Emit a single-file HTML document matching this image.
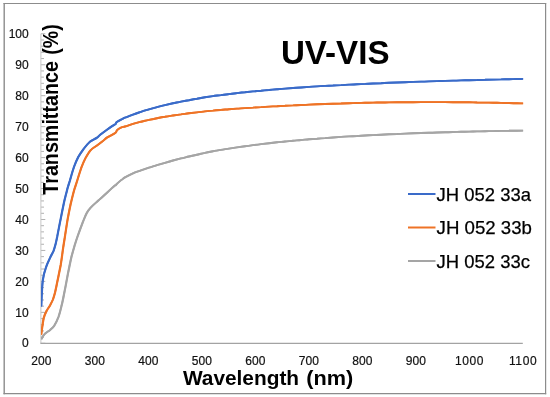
<!DOCTYPE html>
<html><head><meta charset="utf-8"><title>UV-VIS</title>
<style>
html,body{margin:0;padding:0;background:#fff;}
body{width:550px;height:397px;overflow:hidden;}
svg{display:block;font-family:"Liberation Sans",sans-serif;}
.tick{font-size:12px;fill:#111;stroke:#111;stroke-width:0.2px;}
.bold{font-weight:bold;fill:#000;}
.leg{font-size:18.4px;fill:#000;stroke:#000;stroke-width:0.25px;}
</style></head><body>
<svg width="550" height="397" viewBox="0 0 550 397">
<rect x="0" y="0" width="550" height="397" fill="#fff"/>
<g stroke="#8c8c8c">
<line x1="3.5" y1="3.5" x2="546.2" y2="3.5" stroke-width="1.1"/>
<line x1="3.5" y1="393.7" x2="546.2" y2="393.7" stroke-width="1.3"/>
<line x1="4.2" y1="3" x2="4.2" y2="394.3" stroke-width="1.4"/>
<line x1="545.6" y1="3" x2="545.6" y2="394.3" stroke-width="1.2"/>
</g>
<g stroke="#a8a8a8" stroke-width="0.9"><line x1="40.9" y1="343.30" x2="45.3" y2="343.30"/><line x1="40.9" y1="337.11" x2="44.0" y2="337.11"/><line x1="40.9" y1="330.92" x2="44.0" y2="330.92"/><line x1="40.9" y1="324.73" x2="44.0" y2="324.73"/><line x1="40.9" y1="318.54" x2="44.0" y2="318.54"/><line x1="40.9" y1="312.35" x2="45.3" y2="312.35"/><line x1="40.9" y1="306.16" x2="44.0" y2="306.16"/><line x1="40.9" y1="299.97" x2="44.0" y2="299.97"/><line x1="40.9" y1="293.78" x2="44.0" y2="293.78"/><line x1="40.9" y1="287.59" x2="44.0" y2="287.59"/><line x1="40.9" y1="281.40" x2="45.3" y2="281.40"/><line x1="40.9" y1="275.21" x2="44.0" y2="275.21"/><line x1="40.9" y1="269.02" x2="44.0" y2="269.02"/><line x1="40.9" y1="262.83" x2="44.0" y2="262.83"/><line x1="40.9" y1="256.64" x2="44.0" y2="256.64"/><line x1="40.9" y1="250.45" x2="45.3" y2="250.45"/><line x1="40.9" y1="244.26" x2="44.0" y2="244.26"/><line x1="40.9" y1="238.07" x2="44.0" y2="238.07"/><line x1="40.9" y1="231.88" x2="44.0" y2="231.88"/><line x1="40.9" y1="225.69" x2="44.0" y2="225.69"/><line x1="40.9" y1="219.50" x2="45.3" y2="219.50"/><line x1="40.9" y1="213.31" x2="44.0" y2="213.31"/><line x1="40.9" y1="207.12" x2="44.0" y2="207.12"/><line x1="40.9" y1="200.93" x2="44.0" y2="200.93"/><line x1="40.9" y1="194.74" x2="44.0" y2="194.74"/><line x1="40.9" y1="188.55" x2="45.3" y2="188.55"/><line x1="40.9" y1="182.36" x2="44.0" y2="182.36"/><line x1="40.9" y1="176.17" x2="44.0" y2="176.17"/><line x1="40.9" y1="169.98" x2="44.0" y2="169.98"/><line x1="40.9" y1="163.79" x2="44.0" y2="163.79"/><line x1="40.9" y1="157.60" x2="45.3" y2="157.60"/><line x1="40.9" y1="151.41" x2="44.0" y2="151.41"/><line x1="40.9" y1="145.22" x2="44.0" y2="145.22"/><line x1="40.9" y1="139.03" x2="44.0" y2="139.03"/><line x1="40.9" y1="132.84" x2="44.0" y2="132.84"/><line x1="40.9" y1="126.65" x2="45.3" y2="126.65"/><line x1="40.9" y1="120.46" x2="44.0" y2="120.46"/><line x1="40.9" y1="114.27" x2="44.0" y2="114.27"/><line x1="40.9" y1="108.08" x2="44.0" y2="108.08"/><line x1="40.9" y1="101.89" x2="44.0" y2="101.89"/><line x1="40.9" y1="95.70" x2="45.3" y2="95.70"/><line x1="40.9" y1="89.51" x2="44.0" y2="89.51"/><line x1="40.9" y1="83.32" x2="44.0" y2="83.32"/><line x1="40.9" y1="77.13" x2="44.0" y2="77.13"/><line x1="40.9" y1="70.94" x2="44.0" y2="70.94"/><line x1="40.9" y1="64.75" x2="45.3" y2="64.75"/><line x1="40.9" y1="58.56" x2="44.0" y2="58.56"/><line x1="40.9" y1="52.37" x2="44.0" y2="52.37"/><line x1="40.9" y1="46.18" x2="44.0" y2="46.18"/><line x1="40.9" y1="39.99" x2="44.0" y2="39.99"/><line x1="40.9" y1="33.80" x2="45.3" y2="33.80"/></g>
<line x1="40.9" y1="33.8" x2="40.9" y2="343.3" stroke="#c6c6c6" stroke-width="1"/>
<line x1="40.4" y1="343.3" x2="522.8" y2="343.3" stroke="#a3a3a3" stroke-width="1.3"/>
<g class="tick"><text x="28.7" y="347.4" text-anchor="end">0</text><text x="28.7" y="316.5" text-anchor="end">10</text><text x="28.7" y="285.5" text-anchor="end">20</text><text x="28.7" y="254.6" text-anchor="end">30</text><text x="28.7" y="223.6" text-anchor="end">40</text><text x="28.7" y="192.7" text-anchor="end">50</text><text x="28.7" y="161.7" text-anchor="end">60</text><text x="28.7" y="130.8" text-anchor="end">70</text><text x="28.7" y="99.8" text-anchor="end">80</text><text x="28.7" y="68.8" text-anchor="end">90</text><text x="28.7" y="37.9" text-anchor="end">100</text><text x="41.3" y="364.8" text-anchor="middle">200</text><text x="94.8" y="364.8" text-anchor="middle">300</text><text x="148.3" y="364.8" text-anchor="middle">400</text><text x="201.8" y="364.8" text-anchor="middle">500</text><text x="255.3" y="364.8" text-anchor="middle">600</text><text x="308.8" y="364.8" text-anchor="middle">700</text><text x="362.3" y="364.8" text-anchor="middle">800</text><text x="415.8" y="364.8" text-anchor="middle">900</text><text x="469.6" y="364.8" text-anchor="middle" letter-spacing="0.6">1000</text><text x="523.1" y="364.8" text-anchor="middle" letter-spacing="0.6">1100</text></g>
<clipPath id="pa"><rect x="41" y="20" width="483.2" height="324"/></clipPath>
<g fill="none" stroke-width="1.9" stroke-linejoin="round" stroke-linecap="butt" clip-path="url(#pa)">
<path id="cg" stroke="#a5a5a5" d="M41.1 339.3C41.6 338.4 42.9 335.7 44.4 334.1C45.8 332.5 48.3 331.3 50.0 329.9C51.6 328.5 52.7 327.9 54.1 325.7C55.6 323.5 57.3 319.7 58.5 316.5C59.6 313.3 60.3 310.4 61.2 306.6C62.2 302.8 63.0 298.8 64.0 293.5C65.1 288.2 66.5 280.6 67.6 274.6C68.8 268.6 70.0 262.6 71.1 257.7C72.3 252.8 73.6 248.5 74.6 245.0C75.7 241.5 76.1 240.2 77.4 236.5C78.7 232.8 80.9 226.7 82.4 222.8C84.0 218.9 85.2 215.6 86.6 213.0C88.0 210.4 89.0 209.3 90.8 207.3C92.7 205.3 96.4 202.2 97.9 200.8C99.4 199.4 98.3 200.5 99.8 199.1C101.4 197.7 104.7 194.7 107.1 192.5C109.6 190.3 113.0 186.9 114.4 185.7C115.9 184.5 115.2 185.5 115.6 185.2C116.0 184.9 115.8 184.6 116.8 183.7C117.9 182.8 120.4 180.6 121.8 179.6C123.1 178.6 123.0 178.5 124.8 177.4C126.7 176.4 130.2 174.6 132.8 173.4C135.5 172.2 138.2 171.4 140.8 170.4C143.5 169.5 146.2 168.6 148.8 167.7C151.5 166.9 154.2 166.0 156.8 165.2C159.5 164.4 162.2 163.6 164.8 162.8C167.5 162.0 170.2 161.2 172.8 160.5C175.5 159.8 178.2 159.1 180.8 158.4C183.5 157.8 186.2 157.1 188.8 156.5C191.5 155.9 194.2 155.3 196.8 154.7C199.5 154.1 202.2 153.4 204.8 152.9C207.5 152.3 210.2 151.8 212.8 151.3C215.5 150.8 218.2 150.4 220.8 149.9C223.5 149.5 226.2 149.0 228.8 148.6C231.5 148.2 234.2 147.8 236.8 147.4C239.5 147.0 242.2 146.6 244.8 146.2C247.5 145.9 250.2 145.5 252.8 145.1C255.5 144.8 258.2 144.5 260.9 144.1C263.5 143.8 266.2 143.5 268.9 143.2C271.5 142.9 274.2 142.6 276.9 142.3C279.5 142.0 282.2 141.8 284.9 141.5C287.5 141.2 290.2 141.0 292.9 140.7C295.5 140.5 298.2 140.2 300.9 140.0C303.5 139.8 306.2 139.5 308.9 139.3C311.5 139.1 314.2 138.9 316.9 138.7C319.5 138.4 322.2 138.2 324.9 138.1C327.5 137.9 330.2 137.7 332.9 137.5C335.5 137.3 338.2 137.1 340.9 136.9C343.5 136.8 346.2 136.6 348.9 136.4C351.5 136.3 354.2 136.1 356.9 136.0C359.5 135.8 362.2 135.7 364.9 135.5C367.5 135.4 370.2 135.2 372.9 135.1C375.5 134.9 378.2 134.8 380.9 134.7C383.5 134.6 386.2 134.4 388.9 134.3C391.5 134.2 394.2 134.1 396.9 134.0C399.5 133.8 402.2 133.7 404.9 133.6C407.5 133.5 410.2 133.4 412.9 133.3C415.5 133.2 418.2 133.1 420.9 133.0C423.5 132.9 426.2 132.8 428.9 132.7C431.5 132.7 434.2 132.6 436.9 132.5C439.5 132.4 442.2 132.3 444.9 132.2C447.5 132.2 450.2 132.1 452.9 132.0C455.5 131.9 458.2 131.9 460.9 131.8C463.5 131.7 466.2 131.7 468.9 131.6C471.5 131.5 474.2 131.5 476.9 131.4C479.5 131.4 482.2 131.3 484.9 131.2C487.5 131.2 490.2 131.1 492.9 131.1C495.5 131.0 498.2 131.0 500.9 130.9C503.5 130.9 506.2 130.8 508.9 130.8C511.5 130.7 514.5 130.7 516.9 130.7C519.2 130.6 521.9 130.6 522.9 130.6"/><use href="#cg" x="0.3"/>
<path id="co" stroke="#ee7326" d="M41.1 334.8C41.2 333.4 41.8 329.2 42.2 326.4C42.7 323.6 42.9 320.5 43.6 317.9C44.4 315.3 45.4 312.9 46.5 310.8C47.5 308.7 48.9 307.1 50.0 305.2C51.0 303.3 51.9 301.6 52.8 299.5C53.6 297.4 54.0 295.9 54.9 292.5C55.7 289.1 56.8 283.4 57.8 278.8C58.7 274.2 59.7 269.4 60.6 264.7C61.4 260.0 62.0 255.3 62.6 250.6C63.3 245.9 63.9 241.8 64.8 236.5C65.6 231.2 66.7 223.9 67.6 218.6C68.6 213.3 69.4 209.2 70.4 204.5C71.5 199.8 72.8 194.4 73.9 190.4C75.1 186.4 76.0 184.2 77.1 180.5C78.3 176.8 79.7 171.9 81.0 168.2C82.4 164.5 83.7 161.3 85.2 158.4C86.8 155.5 88.3 152.7 90.1 150.6C92.0 148.5 94.5 147.2 96.5 145.7C98.5 144.2 100.4 143.0 102.1 141.6C103.9 140.2 105.0 138.8 107.1 137.4C109.3 136.0 113.5 134.2 115.1 133.0C116.8 131.8 115.9 131.1 117.0 130.1C118.2 129.1 120.5 127.8 121.8 127.2C123.0 126.6 123.0 127.1 124.8 126.5C126.7 126.0 130.2 124.7 132.8 123.9C135.5 123.1 138.2 122.4 140.8 121.7C143.5 121.1 146.2 120.4 148.8 119.9C151.5 119.3 154.2 118.7 156.8 118.2C159.5 117.7 162.2 117.2 164.8 116.8C167.5 116.3 170.2 115.9 172.8 115.5C175.5 115.1 178.2 114.7 180.8 114.4C183.5 114.0 186.2 113.7 188.8 113.3C191.5 113.0 194.2 112.7 196.8 112.4C199.5 112.1 202.2 111.7 204.8 111.4C207.5 111.1 210.2 110.8 212.8 110.6C215.5 110.3 218.2 110.1 220.8 109.9C223.5 109.7 226.2 109.4 228.8 109.2C231.5 109.0 234.2 108.8 236.8 108.6C239.5 108.4 242.2 108.3 244.8 108.1C247.5 107.9 250.2 107.7 252.8 107.6C255.5 107.4 258.2 107.2 260.9 107.1C263.5 106.9 266.2 106.8 268.9 106.6C271.5 106.5 274.2 106.3 276.9 106.2C279.5 106.0 282.2 105.9 284.9 105.8C287.5 105.6 290.2 105.5 292.9 105.4C295.5 105.2 298.2 105.1 300.9 105.0C303.5 104.9 306.2 104.8 308.9 104.6C311.5 104.5 314.2 104.4 316.9 104.3C319.5 104.2 322.2 104.1 324.9 104.0C327.5 103.9 330.2 103.8 332.9 103.7C335.5 103.6 338.2 103.5 340.9 103.5C343.5 103.4 346.2 103.3 348.9 103.2C351.5 103.1 354.2 103.1 356.9 103.0C359.5 102.9 362.2 102.9 364.9 102.8C367.5 102.8 370.2 102.7 372.9 102.6C375.5 102.6 378.2 102.5 380.9 102.5C383.5 102.5 386.2 102.4 388.9 102.4C391.5 102.3 394.2 102.3 396.9 102.3C399.5 102.3 402.2 102.2 404.9 102.2C407.5 102.2 410.2 102.2 412.9 102.2C415.5 102.1 418.2 102.1 420.9 102.1C423.5 102.1 426.2 102.1 428.9 102.1C431.5 102.1 434.2 102.1 436.9 102.1C439.5 102.1 442.2 102.1 444.9 102.1C447.5 102.2 450.2 102.2 452.9 102.2C455.5 102.2 458.2 102.2 460.9 102.3C463.5 102.3 466.2 102.3 468.9 102.3C471.5 102.4 474.2 102.4 476.9 102.5C479.5 102.5 482.2 102.5 484.9 102.6C487.5 102.6 490.2 102.7 492.9 102.7C495.5 102.8 498.2 102.8 500.9 102.9C503.5 102.9 506.2 103.0 508.9 103.0C511.5 103.1 514.5 103.2 516.9 103.2C519.2 103.3 521.9 103.4 522.9 103.4"/><use href="#co" x="0.3"/>
<path id="cb" stroke="#3a6bc9" d="M41.1 306.5C41.2 304.0 41.5 296.1 41.8 291.5C42.0 286.9 42.2 282.8 42.9 278.8C43.5 274.8 44.6 271.0 45.8 267.5C46.9 264.0 48.7 260.5 50.0 257.7C51.2 254.9 52.5 253.0 53.5 250.6C54.4 248.2 55.0 245.8 55.6 243.5C56.2 241.2 56.2 240.7 57.1 236.5C57.9 232.3 59.4 224.4 60.6 218.6C61.7 212.8 62.9 206.9 64.0 201.7C65.2 196.5 66.7 191.1 67.6 187.6C68.6 184.1 68.7 184.0 69.8 180.5C70.8 177.0 72.5 170.7 73.9 166.8C75.3 162.9 76.5 160.1 78.1 157.0C79.8 153.9 82.0 151.0 83.8 148.5C85.7 146.0 87.3 143.9 89.4 142.1C91.6 140.3 94.8 139.1 96.5 137.9C98.3 136.7 98.1 136.4 99.8 135.0C101.6 133.6 104.4 131.4 106.8 129.7C109.3 128.0 113.0 125.5 114.4 124.6C115.9 123.7 115.1 124.5 115.4 124.1C115.8 123.7 115.6 122.9 116.6 122.1C117.7 121.3 120.4 119.9 121.8 119.2C123.1 118.5 123.0 118.5 124.8 117.7C126.7 117.0 130.2 115.6 132.8 114.6C135.5 113.6 138.2 112.7 140.8 111.8C143.5 110.9 146.2 110.1 148.8 109.3C151.5 108.5 154.2 107.8 156.8 107.1C159.5 106.4 162.2 105.7 164.8 105.1C167.5 104.5 170.2 103.9 172.8 103.3C175.5 102.7 178.2 102.2 180.8 101.6C183.5 101.1 186.2 100.6 188.8 100.2C191.5 99.7 194.2 99.2 196.8 98.8C199.5 98.3 202.2 97.8 204.8 97.3C207.5 96.9 210.2 96.5 212.8 96.1C215.5 95.8 218.2 95.4 220.8 95.1C223.5 94.7 226.2 94.4 228.8 94.1C231.5 93.7 234.2 93.4 236.8 93.1C239.5 92.8 242.2 92.5 244.8 92.3C247.5 92.0 250.2 91.7 252.8 91.4C255.5 91.2 258.2 90.9 260.9 90.7C263.5 90.4 266.2 90.2 268.9 90.0C271.5 89.7 274.2 89.5 276.9 89.3C279.5 89.1 282.2 88.9 284.9 88.6C287.5 88.4 290.2 88.2 292.9 88.0C295.5 87.9 298.2 87.7 300.9 87.5C303.5 87.3 306.2 87.1 308.9 86.9C311.5 86.8 314.2 86.6 316.9 86.4C319.5 86.3 322.2 86.1 324.9 85.9C327.5 85.8 330.2 85.6 332.9 85.5C335.5 85.3 338.2 85.2 340.9 85.1C343.5 84.9 346.2 84.8 348.9 84.6C351.5 84.5 354.2 84.4 356.9 84.2C359.5 84.1 362.2 84.0 364.9 83.9C367.5 83.7 370.2 83.6 372.9 83.5C375.5 83.4 378.2 83.3 380.9 83.2C383.5 83.0 386.2 82.9 388.9 82.8C391.5 82.7 394.2 82.6 396.9 82.5C399.5 82.4 402.2 82.3 404.9 82.2C407.5 82.1 410.2 82.0 412.9 81.9C415.5 81.8 418.2 81.7 420.9 81.6C423.5 81.6 426.2 81.5 428.9 81.4C431.5 81.3 434.2 81.2 436.9 81.1C439.5 81.0 442.2 81.0 444.9 80.9C447.5 80.8 450.2 80.7 452.9 80.6C455.5 80.6 458.2 80.5 460.9 80.4C463.5 80.3 466.2 80.3 468.9 80.2C471.5 80.1 474.2 80.0 476.9 80.0C479.5 79.9 482.2 79.8 484.9 79.8C487.5 79.7 490.2 79.6 492.9 79.6C495.5 79.5 498.2 79.4 500.9 79.4C503.5 79.3 506.2 79.3 508.9 79.2C511.5 79.1 514.5 79.1 516.9 79.0C519.2 79.0 521.9 78.9 522.9 78.9"/><use href="#cb" x="0.3"/>
</g>
<text class="bold" id="title" x="335.2" y="64.2" text-anchor="middle" font-size="33" textLength="108.6" lengthAdjust="spacingAndGlyphs">UV-VIS</text>
<text class="bold" x="182.9" y="384.6" font-size="21" textLength="116.2" lengthAdjust="spacingAndGlyphs">Wavelength</text>
<text class="bold" x="306.3" y="384.6" font-size="21" textLength="47" lengthAdjust="spacingAndGlyphs">(nm)</text>
<g transform="translate(58,0) rotate(-90) scale(1,1.05)"><text class="bold" x="-194.7" y="0" font-size="21" textLength="133.6" lengthAdjust="spacingAndGlyphs">Transmittance</text>
<text class="bold" x="-54.7" y="0" font-size="21" textLength="30.4" lengthAdjust="spacingAndGlyphs">(%)</text></g>
<g stroke-width="2" stroke-linecap="butt">
<line x1="408" y1="194.0" x2="435.5" y2="194.0" stroke="#3a6bc9"/>
<line x1="408" y1="227.5" x2="435.5" y2="227.5" stroke="#ee7326"/>
<line x1="408" y1="261.0" x2="435.5" y2="261.0" stroke="#a5a5a5"/>
</g>
<g class="leg">
<text x="436.6" y="200.8" textLength="94.4" lengthAdjust="spacingAndGlyphs">JH 052 33a</text>
<text x="436.6" y="234.3" textLength="95.4" lengthAdjust="spacingAndGlyphs">JH 052 33b</text>
<text x="436.6" y="267.8" textLength="93.4" lengthAdjust="spacingAndGlyphs">JH 052 33c</text>
</g>
</svg>
</body></html>
